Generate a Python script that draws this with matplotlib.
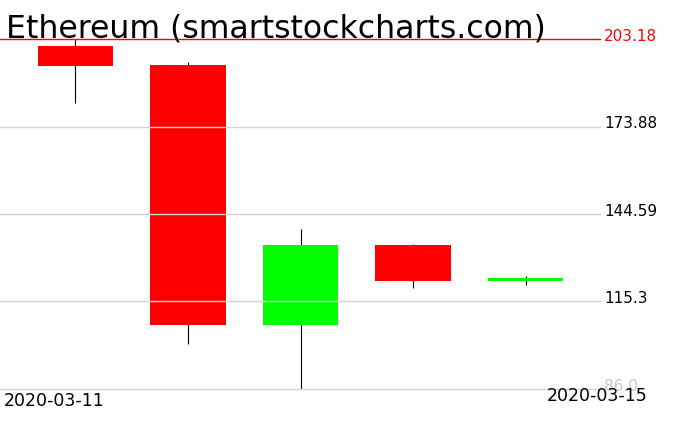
import numpy as np
import matplotlib
matplotlib.use("Agg")
import matplotlib.pyplot as plt

# daily candles
dates = ["2020-03-11", "2020-03-12", "2020-03-13", "2020-03-14", "2020-03-15"]
opens = [200.9, 194.5, 107.5, 134.2, 122.3]
highs = [203.18, 195.6, 139.6, 134.5, 123.7]
lows = [181.7, 100.9, 86.0, 119.8, 120.9]
closes = [194.3, 107.5, 134.2, 122.3, 123.1]

level_values = [86.0, 115.3, 144.59, 173.88, 203.18]
level_labels = ["86.0", "115.3", "144.59", "173.88", "203.18"]

title = "Ethereum (smartstockcharts.com)"

W, H = 676, 431
fig = plt.figure(figsize=(W / 100, H / 100), dpi=100)
# plot area: x 0..600 px, y 40..390 px
ax = fig.add_axes([0, (H - 390) / H, 600 / W, 350 / H])
ax.set_axis_off()

x = np.arange(len(dates))
o = np.array(opens)
c = np.array(closes)
colors = ["#00ff00" if cc > oo else "#ff0000" for oo, cc in zip(o, c)]

# wicks behind the bodies
ax.vlines(x, lows, highs, color="black", linewidth=0.8, zorder=1)
ax.bar(x, np.abs(c - o), bottom=np.minimum(o, c), width=0.667,
       color=colors, linewidth=0, zorder=2)

ax.set_xlim(-0.671, 4.662)
ax.set_ylim(level_values[0], level_values[-1])

# horizontal levels, drawn over the candles
for i, (val, lab) in enumerate(zip(level_values, level_labels)):
    if i == len(level_values) - 1:
        line_col, txt_col = "#ff0000", "#ff0000"
    elif i == 0:
        line_col, txt_col = "#d3d3d3", "#c8c8c8"
    else:
        line_col, txt_col = "#d3d3d3", "black"
    ax.axhline(val, color=line_col, linewidth=1.0, zorder=3, clip_on=False)
    ax.annotate(lab, xy=(1.0, val), xycoords=("axes fraction", "data"),
                xytext=(3, -0.5), textcoords="offset points",
                ha="left", va="baseline", fontsize=11, color=txt_col,
                annotation_clip=False)

fig.text(6 / W, 1 - 38 / H, title, fontsize=22.7, ha="left",
         va="baseline", color="black")
fig.text(4 / W, 1 - 406 / H, dates[0], fontsize=12.5, ha="left",
         va="baseline", color="black")
fig.text(647 / W, 1 - 401.5 / H, dates[-1], fontsize=12.5, ha="right",
         va="baseline", color="black")

fig.savefig("out.png", dpi=100, facecolor="white")
